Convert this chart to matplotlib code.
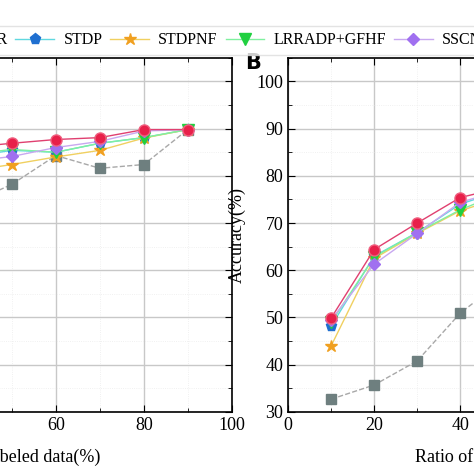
import matplotlib.pyplot as plt
from matplotlib.ticker import MultipleLocator

plt.rcParams['font.family'] = ['Liberation Serif', 'DejaVu Serif']

methods = ['GFHF-LRR', 'STDP', 'STDPNF', 'LRRADP+GFHF', 'SSCNAC', 'Ours']
ratio_a = [10, 20, 30, 40, 50, 60, 70, 80, 90]
acc_a = {
    'GFHF-LRR': [60.0, 66.0, 70.0, 74.0, 78.2, 84.3, 81.6, 82.4, 89.8],
    'STDP': [72.0, 78.0, 81.5, 84.0, 85.4, 85.0, 86.9, 88.1, 89.8],
    'STDPNF': [70.0, 76.0, 79.5, 81.0, 82.4, 84.0, 85.4, 88.0, 89.8],
    'LRRADP+GFHF': [73.0, 79.0, 82.5, 84.5, 85.6, 85.0, 86.9, 88.1, 89.8],
    'SSCNAC': [72.5, 78.5, 81.0, 83.0, 84.1, 86.0, 87.3, 89.5, 89.8],
    'Ours': [76.0, 81.0, 84.0, 86.0, 86.9, 87.7, 88.1, 89.8, 89.8],
}
ratio_b = [10, 20, 30, 40, 50, 60, 70, 80, 90]
acc_b = {
    'GFHF-LRR': [32.7, 35.7, 40.8, 50.9, 58.0, 66.0, 74.0, 80.0, 86.0],
    'STDP': [48.2, 63.0, 68.0, 74.0, 77.0, 80.0, 83.0, 86.0, 88.0],
    'STDPNF': [44.0, 62.5, 67.8, 72.6, 75.5, 79.0, 82.0, 85.0, 87.5],
    'LRRADP+GFHF': [49.0, 62.8, 68.0, 72.8, 76.5, 79.5, 82.5, 85.5, 88.0],
    'SSCNAC': [49.5, 61.3, 67.8, 74.4, 77.0, 80.5, 83.5, 86.5, 88.5],
    'Ours': [49.9, 64.4, 70.0, 75.4, 77.6, 81.0, 84.0, 87.0, 89.0],
}

styles = {
    'GFHF-LRR': dict(color='#a8a8a8', marker='s', mfc='#6e7f7f', mec='#6e7f7f', ms=7, ls='--'),
    'STDP': dict(color='#60d8e0', marker='p', mfc='#1f6fd0', mec='#1f6fd0', ms=8, ls='-'),
    'STDPNF': dict(color='#f0d060', marker='*', mfc='#f0a020', mec='#f0a020', ms=9, ls='-'),
    'LRRADP+GFHF': dict(color='#80f0a0', marker='v', mfc='#20d040', mec='#20d040', ms=8, ls='-'),
    'SSCNAC': dict(color='#c8a8f0', marker='D', mfc='#a070f0', mec='#a070f0', ms=6, ls='-'),
    'Ours': dict(color='#e04070', marker='o', mfc='#e8204a', mec='#f06080', ms=8, ls='-'),
}

fig = plt.figure(figsize=(4.74, 4.74), dpi=100)
ax_a = fig.add_axes([-0.439, 0.131, 0.928, 0.747])
ax_b = fig.add_axes([0.608, 0.131, 0.907, 0.747])

handles = []
for ax, xs, data in [(ax_a, ratio_a, acc_a), (ax_b, ratio_b, acc_b)]:
    for name in methods:
        h, = ax.plot(xs, data[name], lw=1, label=name, **styles[name])
        if ax is ax_a:
            handles.append(h)
    ax.set_xlim(0, 100)
    ax.set_ylim(30, 105)
    ax.xaxis.set_major_locator(MultipleLocator(20))
    ax.xaxis.set_minor_locator(MultipleLocator(10))
    ax.yaxis.set_major_locator(MultipleLocator(10))
    ax.yaxis.set_minor_locator(MultipleLocator(5))
    ax.set_yticks([30, 40, 50, 60, 70, 80, 90, 100])
    ax.grid(which='major', color='#c8c8c8', lw=1)
    ax.grid(which='minor', color='#ececec', lw=0.6, ls=':')
    ax.tick_params(which='both', direction='in', top=True, right=True, labelsize=13)
    ax.tick_params(which='major', length=5)
    ax.tick_params(which='minor', length=3)
    for s in ax.spines.values():
        s.set_linewidth(1.2)
    ax.set_xlabel('Ratio of labeled data(%)', fontsize=13, labelpad=10)
    ax.set_axisbelow(True)

ax_b.set_ylabel('Accuracy(%)', fontsize=13, labelpad=8)
fig.text(0.518, 0.855, 'B', fontsize=15, fontweight='bold', family='DejaVu Sans')

fig.legend(handles=handles, loc='center', bbox_to_anchor=(0.50, 0.915), ncol=6,
           fontsize=11.5, frameon=True, fancybox=False, edgecolor='#dddddd',
           handlelength=2.4, handletextpad=0.6, columnspacing=0.5, borderpad=0.4)

fig.savefig('out.png', dpi=100)
